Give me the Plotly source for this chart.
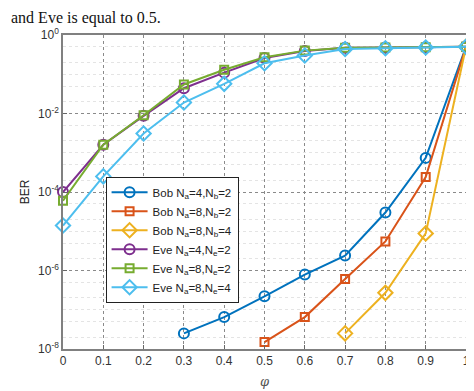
import plotly.graph_objects as go

phi = [0, 0.1, 0.2, 0.3, 0.4, 0.5, 0.6, 0.7, 0.8, 0.9, 1.0]

bob_a4_b2_x = [0.3, 0.4, 0.5, 0.6, 0.7, 0.8, 0.9, 1.0]
bob_a4_b2 = [2.5e-8, 6.5e-8, 2.2e-7, 7.9e-7, 2.4e-6, 3.0e-5, 7.4e-4, 0.5]

bob_a8_b2_x = [0.5, 0.6, 0.7, 0.8, 0.9, 1.0]
bob_a8_b2 = [1.5e-8, 6.5e-8, 6.1e-7, 5.5e-6, 2.4e-4, 0.5]

bob_a8_b4_x = [0.7, 0.8, 0.9, 1.0]
bob_a8_b4 = [2.5e-8, 2.7e-7, 8.8e-6, 0.5]

eve_a4_e2 = [1.0e-4, 1.6e-3, 8.7e-3, 0.044, 0.11, 0.26, 0.39, 0.47, 0.48, 0.49, 0.5]
eve_a8_e2 = [6.0e-5, 1.6e-3, 9.0e-3, 0.055, 0.13, 0.27, 0.40, 0.47, 0.48, 0.49, 0.5]
eve_a8_e4 = [1.4e-5, 2.5e-4, 3.1e-3, 0.019, 0.057, 0.19, 0.30, 0.44, 0.46, 0.48, 0.5]

x_ticks = [0, 0.1, 0.2, 0.3, 0.4, 0.5, 0.6, 0.7, 0.8, 0.9, 1]
x_ticktext = ["0", "0.1", "0.2", "0.3", "0.4", "0.5", "0.6", "0.7", "0.8", "0.9", "1"]
y_ticks = [1e-8, 1e-6, 1e-4, 1e-2, 1]
y_ticktext = ["10<sup>-8</sup>", "10<sup>-6</sup>", "10<sup>-4</sup>", "10<sup>-2</sup>", "10<sup>0</sup>"]

series = [
    ("Bob N<sub>a</sub>=4,N<sub>b</sub>=2", bob_a4_b2_x, bob_a4_b2, "#0072BD", "circle-open"),
    ("Bob N<sub>a</sub>=8,N<sub>b</sub>=2", bob_a8_b2_x, bob_a8_b2, "#D95319", "square-open"),
    ("Bob N<sub>a</sub>=8,N<sub>b</sub>=4", bob_a8_b4_x, bob_a8_b4, "#EDB120", "diamond-open"),
    ("Eve N<sub>a</sub>=4,N<sub>e</sub>=2", phi, eve_a4_e2, "#7E2F8E", "circle-open"),
    ("Eve N<sub>a</sub>=8,N<sub>e</sub>=2", phi, eve_a8_e2, "#77AC30", "square-open"),
    ("Eve N<sub>a</sub>=8,N<sub>e</sub>=4", phi, eve_a8_e4, "#4DBEEE", "diamond-open"),
]

fig = go.Figure()
for name, xs, ys, color, sym in series:
    size = 10 if sym.startswith("circle") else (8 if sym.startswith("square") else 11)
    fig.add_trace(go.Scatter(
        x=xs, y=ys, name=name, mode="lines+markers",
        line=dict(color=color, width=2),
        marker=dict(symbol=sym, size=size, color=color, line=dict(width=2, color=color)),
        cliponaxis=False,
    ))

axis_font = dict(family="Liberation Sans, Arial, sans-serif", size=12, color="#333333")

fig.update_layout(
    width=474, height=391,
    margin=dict(l=55, r=12, t=27, b=44),
    paper_bgcolor="white", plot_bgcolor="white",
    font=axis_font,
    showlegend=True,
    legend=dict(
        x=(98 - 55) / 407, y=(347.5 - 172) / 320, xanchor="left", yanchor="top",
        bgcolor="white", bordercolor="#222222", borderwidth=1,
        font=dict(family="Liberation Sans, Arial, sans-serif", size=11.5, color="#222222"),
        tracegroupgap=0, itemwidth=36,
    ),
    xaxis=dict(
        range=[0, 1], tickvals=x_ticks, ticktext=x_ticktext,
        showgrid=True, gridcolor="#8a8a8a", griddash="dot", gridwidth=1,
        showline=True, linecolor="#808080", linewidth=1.5, mirror=True,
        ticks="inside", ticklen=4, tickcolor="#666666",
        zeroline=False,
        title=dict(text="<i>φ</i>", font=dict(family="DejaVu Serif, serif", size=13, color="#555555"), standoff=10),
        tickfont=axis_font,
    ),
    yaxis=dict(
        type="log", range=[-8, 0], tickvals=y_ticks, ticktext=y_ticktext,
        showgrid=True, gridcolor="#8a8a8a", griddash="dot", gridwidth=1,
        showline=True, linecolor="#808080", linewidth=1.5, mirror=True,
        ticks="inside", ticklen=4, tickcolor="#666666",
        minor=dict(showgrid=True, gridcolor="#e4e4e4", griddash="dot", ticks=""),
        zeroline=False,
        title=dict(text="BER", font=dict(family="Liberation Sans, Arial, sans-serif", size=12, color="#222222"), standoff=6),
        tickfont=axis_font,
    ),
)

fig.add_annotation(
    text="and Eve is equal to 0.5.", xref="paper", yref="paper",
    x=(0 - 55) / 407, y=(347.5 + 1) / 320, xanchor="left", yanchor="top",
    showarrow=False, font=dict(family="Liberation Serif, Times New Roman, serif", size=16, color="#111111"),
)

fig.write_html("out.html")
